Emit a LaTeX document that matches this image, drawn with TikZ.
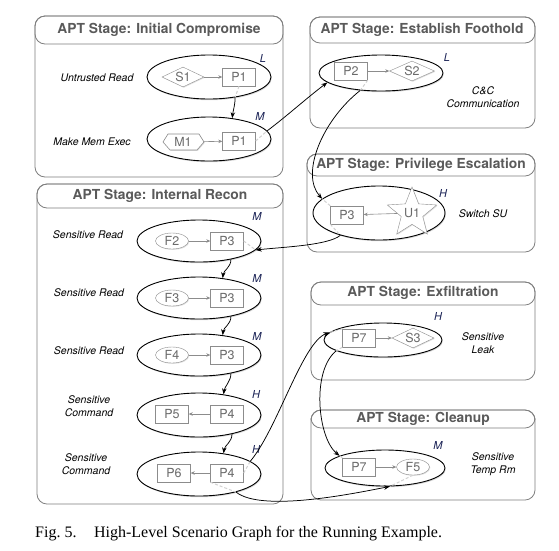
\documentclass[tikz,border=0pt]{standalone}
\usepackage{fontspec}
\setmainfont{Liberation Serif}
\newfontfamily\hv{TeX Gyre Heros}
\usetikzlibrary{shapes.geometric,shadows,arrows.meta}
\definecolor{boxgray}{HTML}{7F7F7F}
\definecolor{headtxt}{HTML}{5A5A5A}
\definecolor{nodegray}{HTML}{8C8C8C}
\definecolor{nodetxt}{HTML}{6A6A6A}
\definecolor{sevblue}{HTML}{1A2255}
\tikzset{
 cluster/.style={draw=boxgray, line width=0.8pt, rounded corners=10pt, fill=white},
 header/.style={draw=boxgray, line width=0.8pt, rounded corners=10pt},
 headtext/.style={font=\hv\bfseries\fontsize{13.8}{15}\selectfont, text=headtxt},
 lab/.style={font=\hv\itshape\fontsize{10.5}{12.5}\selectfont, align=center},
 sev/.style={font=\hv\itshape\fontsize{11}{12}\selectfont, text=sevblue},
 stagee/.style={ellipse, draw=black, line width=0.9pt, fill=white, inner sep=0pt,
   drop shadow={opacity=0.3, shadow xshift=0.8pt, shadow yshift=-1.2pt}},
 inner/.style={draw=nodegray, fill=white, text=nodetxt, font=\hv\fontsize{12.5}{12.5}\selectfont,
   inner sep=0pt, drop shadow={opacity=0.25, shadow xshift=0.8pt, shadow yshift=-0.8pt}},
 proc/.style={inner, rectangle, minimum width=33pt, minimum height=18pt},
 sock/.style={inner, diamond, aspect=2.2, minimum width=42pt, minimum height=20pt},
 file/.style={inner, ellipse, minimum width=33pt, minimum height=16pt},
 usr/.style={inner, star, star points=5, star point ratio=2.3, minimum size=38pt},
 inarrow/.style={draw=nodegray, line width=0.6pt, -{Stealth[length=4pt,width=3.5pt]}},
 stub/.style={draw=black!18, dashed, dash pattern=on 3pt off 2pt, line width=1pt},
 conn/.style={draw=black, line width=0.75pt, -{Stealth[length=6pt,width=4.5pt]}},
}
\begin{document}
\begin{tikzpicture}[x=1pt,y=-1pt]
\useasboundingbox (0,0) rectangle (559,550);
\fill[white] (0,0) rectangle (559,550);

% ---------- clusters ----------
\draw[cluster] (35,16) rectangle (283,177);
\draw[header] (35,16) rectangle (283,44);
\node[headtext] (h1) at (159,30) {APT Stage: Initial Compromise};

\draw[cluster] (310,17) rectangle (535,128);
\draw[header] (310,17) rectangle (535,43);
\node[headtext] (h2) at (422,30) {APT Stage: Establish Foothold};

\draw[cluster] (307,154) rectangle (535,252);
\draw[header] (307,154) rectangle (535,176);
\node[headtext] (h3) at (421,165) {APT Stage: Privilege Escalation};

\draw[cluster] (37,184) rectangle (283,504);
\draw[header] (37,184) rectangle (283,208);
\node[headtext] (h4) at (160,196) {APT Stage: Internal Recon};

\draw[cluster] (311,282) rectangle (535,380);
\draw[header] (311,282) rectangle (535,305);
\node[headtext] (h5) at (423,293) {APT Stage: Exfiltration};

\draw[cluster] (311,410) rectangle (535,500);
\draw[header] (311,410) rectangle (535,428);
\node[headtext] (h6) at (423,419) {APT Stage: Cleanup};

% ---------- stage ellipses ----------
\node[stagee, minimum width=124pt, minimum height=44pt] (ic1) at (209,77) {};
\node[stagee, minimum width=124pt, minimum height=44pt] (ic2) at (209,139) {};
\node[stagee, minimum width=124pt, minimum height=36pt] (ef) at (381,73) {};
\node[stagee, minimum width=132pt, minimum height=54pt] (pe) at (379,213) {};
\node[stagee, minimum width=124pt, minimum height=42pt] (ir1) at (199,241) {};
\node[stagee, minimum width=124pt, minimum height=42pt] (ir2) at (199,298) {};
\node[stagee, minimum width=124pt, minimum height=42pt] (ir3) at (199,355) {};
\node[stagee, minimum width=124pt, minimum height=44pt] (ir4) at (199,415) {};
\node[stagee, minimum width=124pt, minimum height=44pt] (ir5) at (199,474) {};
\node[stagee, minimum width=118pt, minimum height=34pt] (ex) at (383,340) {};
\node[stagee, minimum width=120pt, minimum height=36pt] (cl) at (385,468) {};

% ---------- severity labels ----------
\node[sev] (sv1) at (263,58) {L};
\node[sev] (sv2) at (260,116) {M};
\node[sev] (sv3) at (447,57) {L};
\node[sev] (sv4) at (443,193) {H};
\node[sev] (sv5) at (257,216) {M};
\node[sev] (sv6) at (257,278) {M};
\node[sev] (sv7) at (257,336) {M};
\node[sev] (sv8) at (256,394) {H};
\node[sev] (sv9) at (256,449) {H};
\node[sev] (sv10) at (438,316) {H};
\node[sev] (sv11) at (438,445) {M};

% ---------- stage labels ----------
\node[lab] (l1) at (97,78) {Untrusted Read};
\node[lab] (l2) at (92,142) {Make Mem Exec};
\node[lab] (l3) at (483,97) {C\&C\\Communication};
\node[lab] (l4) at (483,214) {Switch SU};
\node[lab] (l5) at (88,235) {Sensitive Read};
\node[lab] (l6) at (89,293) {Sensitive Read};
\node[lab] (l7) at (89,351) {Sensitive Read};
\node[lab] (l8) at (89,406) {Sensitive\\Command};
\node[lab] (l9) at (86,464) {Sensitive\\Command};
\node[lab] (l10) at (483,343) {Sensitive\\Leak};
\node[lab] (l11) at (493,464) {Sensitive\\Temp Rm};

% ---------- inner nodes ----------
\node[sock] (s1) at (183,77) {S1};
\node[proc] (p1a) at (239,77) {P1};
\draw[inarrow] (s1) -- (p1a);

\draw[draw=nodegray, fill=white, line width=0.6pt,
  drop shadow={opacity=0.25, shadow xshift=0.8pt, shadow yshift=-0.8pt}]
  (163,142) -- (168,134) -- (199,134) -- (204,142) -- (197,150) -- (170,150) -- cycle;
\node[font=\hv\fontsize{12.5}{12.5}\selectfont, text=nodetxt, inner sep=0pt, minimum width=41pt, minimum height=16pt] (m1) at (183,142) {M1};
\node[proc] (p1b) at (239,141) {P1};
\draw[inarrow] (m1) -- (p1b);

\node[proc] (p2) at (351,71) {P2};
\node[sock, minimum width=45pt] (s2) at (412,71) {S2};
\draw[inarrow] (p2) -- (s2);

\node[proc] (p3a) at (347,215) {P3};
\node[usr] (u1) at (412,213) {U1};
\draw[inarrow] (u1) -- (p3a);

\node[file] (f2) at (172,241) {F2};
\node[proc] (p3b) at (227,241) {P3};
\draw[inarrow] (f2) -- (p3b);

\node[file] (f3) at (172,298) {F3};
\node[proc] (p3c) at (227,298) {P3};
\draw[inarrow] (f3) -- (p3c);

\node[file] (f4) at (172,355) {F4};
\node[proc] (p3d) at (227,355) {P3};
\draw[inarrow] (f4) -- (p3d);

\node[proc] (p5) at (172,414) {P5};
\node[proc] (p4a) at (227,414) {P4};
\draw[inarrow] (p4a) -- (p5);

\node[proc] (p6) at (174,473) {P6};
\node[proc] (p4b) at (227,473) {P4};
\draw[inarrow] (p4b) -- (p6);

\node[proc] (p7a) at (359,338) {P7};
\node[sock] (s3) at (413,338) {S3};
\draw[inarrow] (p7a) -- (s3);

\node[proc] (p7b) at (359,467) {P7};
\node[file] (f5) at (413,467) {F5};
\draw[inarrow] (p7b) -- (f5);

% ---------- stubs (node to ellipse border) ----------
\draw[stub] (p1a.south) -- (ic1.-38);
\draw[stub] (p1b.east) -- (ic2.8);
\draw[stub] (p2.south east) -- (ef.-140);
\draw[stub] (p3a.north west) -- (pe.166);
\draw[stub] (p3a.south west) -- (pe.-150);
\draw[stub] (p3b.east) -- (ir1.-9);
\draw[stub] (p4b.east) -- (ir5.14);
\draw[stub] (p4b.south west) -- (ir5.-26);
\draw[stub] (p7a.north west) -- (ex.172);
\draw[stub] (p7a.south west) -- (ex.-167);
\draw[stub] (p7b.north west) -- (cl.165);
\draw[stub] (f5.south) -- (cl.-75);

% ---------- connectors ----------
\draw[conn] (ic1.-38) .. controls +(0,8) and +(1,-8) .. (ic2.42);
\draw[conn] (ic2.8) .. controls +(20,-15) and +(-20,15) .. (ef.190);
\draw[conn] (ef.-140) .. controls +(-38,30) and +(-22,-25) .. (pe.166);
\draw[conn] (pe.-150) .. controls +(-12,10) and +(28,-3) .. (ir1.-9);
\draw[conn] (ir1.-30) .. controls +(0,8) and +(1,-8) .. (ir2.40);
\draw[conn] (ir2.-30) .. controls +(0,8) and +(1,-8) .. (ir3.40);
\draw[conn] (ir3.-30) .. controls +(0,8) and +(1,-8) .. (ir4.40);
\draw[conn] (ir4.-30) .. controls +(0,8) and +(1,-8) .. (ir5.40);
\draw[conn] (ir5.14) .. controls +(27,-32) and +(-27,10) .. (ex.172);
\draw[conn] (ex.-167) .. controls +(-25,20) and +(-22,-18) .. (cl.165);
\draw[conn] (ir5.-26) .. controls +(25,20) and +(-40,8) .. (cl.-75);

% ---------- caption ----------
\node[anchor=west, font=\fontsize{16}{18}\selectfont, inner sep=0pt] (cap) at (35,534)
  {Fig.~5.\hspace{1.1em}High-Level Scenario Graph for the Running Example.};
\end{tikzpicture}
\end{document}
